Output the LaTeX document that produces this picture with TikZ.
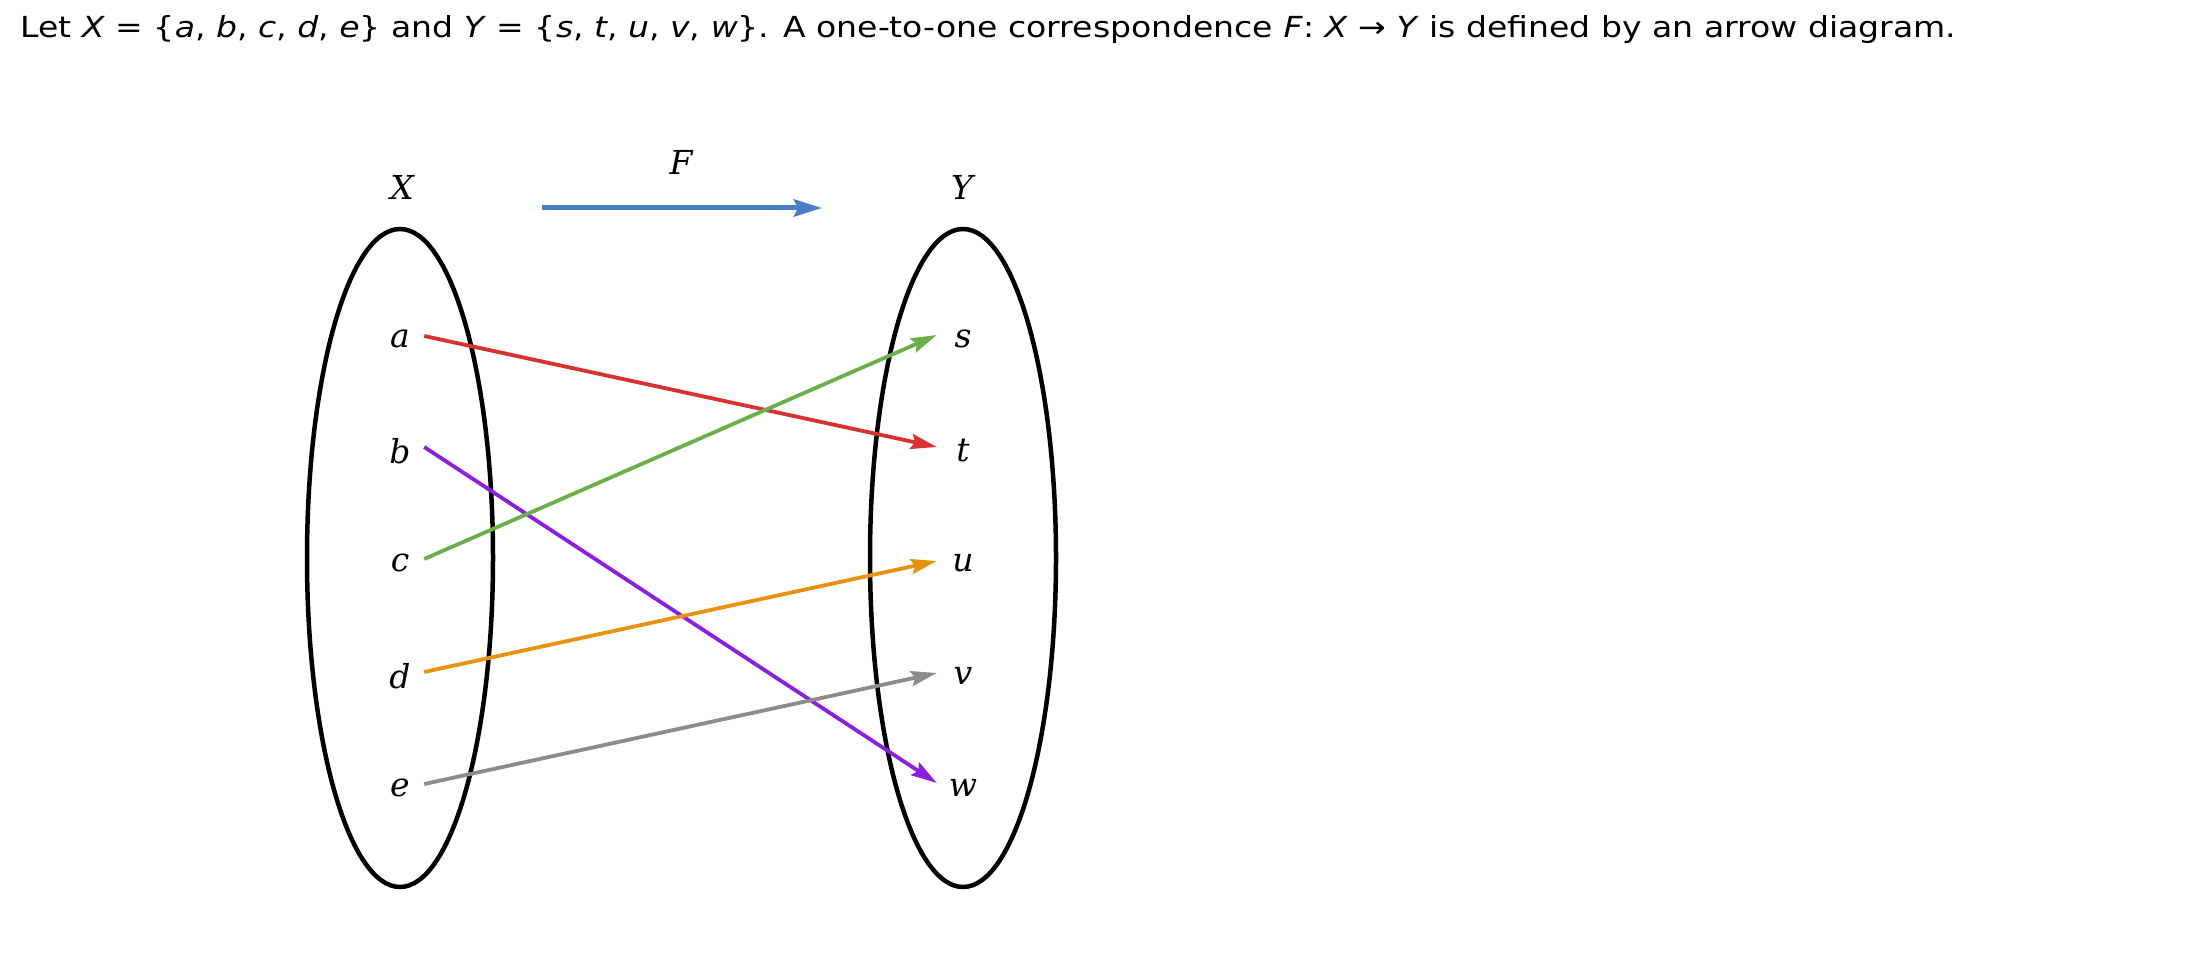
\documentclass[tikz,border=0pt]{standalone}
\usepackage{fontspec}
\usetikzlibrary{arrows.meta,shapes.geometric}
\newfontfamily\titlefont[FakeStretch=1.14]{DejaVu Sans}
\newfontfamily\lblfont{DejaVu Serif}
\definecolor{cred}{HTML}{D93030}
\definecolor{cgreen}{HTML}{6AAF4A}
\definecolor{cpurple}{HTML}{8A1FE0}
\definecolor{corange}{HTML}{E8920F}
\definecolor{cgray}{HTML}{8C8C8C}
\definecolor{cblue}{HTML}{4A7EC8}
\begin{document}
\begin{tikzpicture}[x=1pt,y=-1pt,
  setellipse/.style={draw=black,line width=4.5pt,ellipse,minimum width=186pt,minimum height=658pt,inner sep=0pt},
  lblfont/.style={font=\lblfont\itshape\fontsize{33}{40}\selectfont},
  leftlbl/.style={lblfont,inner sep=0pt,minimum width=48pt,minimum height=30pt},
  rightlbl/.style={lblfont,inner sep=0pt,minimum width=52pt,minimum height=30pt},
  headlbl/.style={lblfont,inner sep=0pt},
  maparrow/.style={line width=3.8pt,-{Stealth[length=26pt,width=15pt,inset=4pt]}}]
\useasboundingbox (0,0) rectangle (2203,965);
\node[anchor=base west,inner sep=0pt,font=\titlefont\fontsize{29}{34}\selectfont] (title) at (20,38)
  {Let \textit{X} = \{\textit{a}, \textit{b}, \textit{c}, \textit{d}, \textit{e}\} and \textit{Y} = \{\textit{s}, \textit{t}, \textit{u}, \textit{v}, \textit{w}\}. A one-to-one correspondence \textit{F}: \textit{X} → \textit{Y} is defined by an arrow diagram.};
\node[setellipse] (Xset) at (400,558) {};
\node[setellipse] (Yset) at (963,558) {};
\node[headlbl] (Xh) at (402,187) {X};
\node[headlbl] (Yh) at (962,187) {Y};
\node[headlbl] (Fh) at (681,162) {F};
\coordinate (Fs) at (542,208);
\coordinate (Fe) at (822,208);
\draw[line width=5pt,cblue,-{Stealth[length=28pt,width=17pt,inset=4pt]}] (Fs) -- (Fe);
\node[leftlbl] (a) at (400,339) {a};
\node[leftlbl] (b) at (400,451) {b};
\node[leftlbl] (c) at (400,563) {c};
\node[leftlbl] (d) at (400,676) {d};
\node[leftlbl] (e) at (400,788) {e};
\node[rightlbl] (s) at (963,339) {s};
\node[rightlbl] (t) at (963,451) {t};
\node[rightlbl] (u) at (963,563) {u};
\node[rightlbl] (v) at (963,676) {v};
\node[rightlbl] (w) at (963,788) {w};
\draw[maparrow,cred] ([yshift=3pt]a.east) -- ([yshift=4pt]t.west);
\draw[maparrow,cpurple] ([yshift=4pt]b.east) -- ([yshift=5pt]w.west);
\draw[maparrow,cgreen] ([yshift=4pt]c.east) -- ([yshift=4pt]s.west);
\draw[maparrow,corange] ([yshift=4pt]d.east) -- ([yshift=2pt]u.west);
\draw[maparrow,cgray] ([yshift=4pt]e.east) -- ([yshift=3pt]v.west);
\end{tikzpicture}
\end{document}
